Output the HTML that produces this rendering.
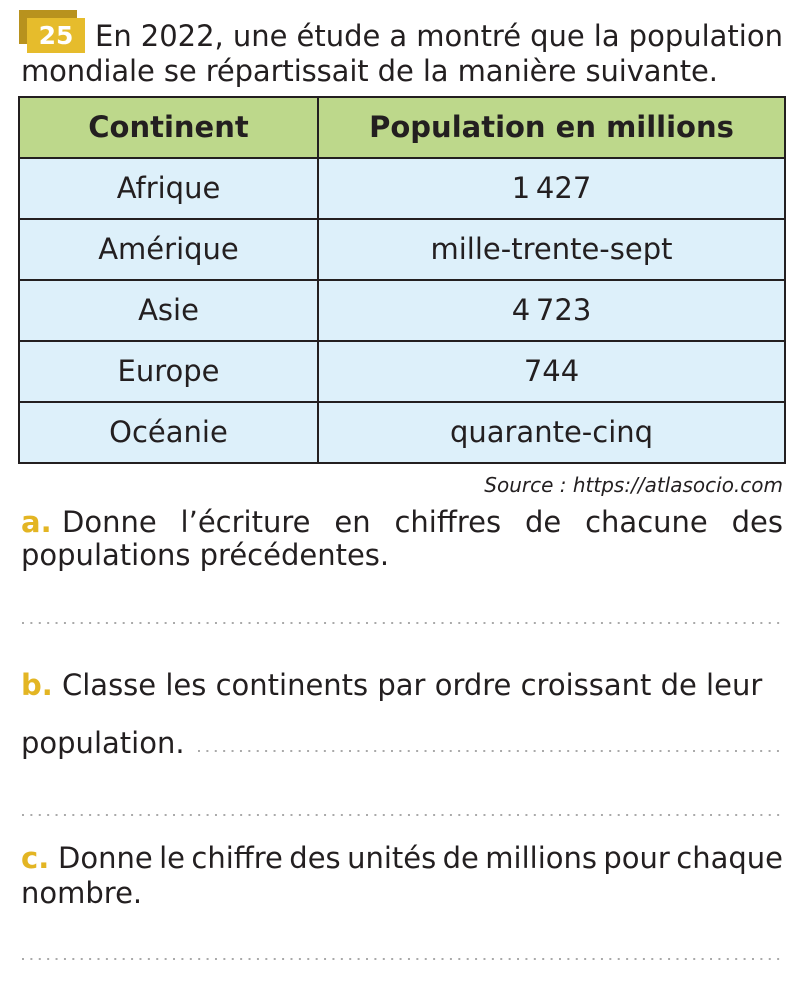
<!DOCTYPE html>
<html>
<head>
<meta charset="utf-8">
<style>
  html, body { margin:0; padding:0; }
  body { width:803px; height:1007px; background:#fff; position:relative; overflow:hidden;
         font-family:"DejaVu Sans","Liberation Sans",sans-serif; color:#231f20; }
  .abs { position:absolute; white-space:nowrap; }
  .t { font-size:29px; line-height:35px; }
  .y { color:#e3b523; font-weight:bold; }
  .just { text-align:justify; text-align-last:justify; white-space:normal; }
  .dots { position:absolute; height:2px;
          background-image:linear-gradient(to right,#a9a9a9 0,#a9a9a9 2.2px,transparent 2.2px);
          background-size:8.4px 2px; background-repeat:repeat-x; }
  .hl { position:absolute; left:18px; width:768px; height:2px; background:#231f20; }
  .vl { position:absolute; top:96px; height:368px; width:2px; background:#231f20; }
  .cell { position:absolute; font-size:29px; line-height:61px; text-align:center; white-space:nowrap; }
</style>
</head>
<body>
  <!-- badge -->
  <div style="position:absolute;left:19px;top:10px;width:58px;height:34px;background:#b8921e;"></div>
  <div style="position:absolute;left:27px;top:18px;width:58px;height:35px;background:#e6bc2c;color:#fff;font-weight:bold;font-size:25px;line-height:35px;text-align:center;">25</div>

  <div class="abs t just" style="left:95px;top:18.5px;width:688px;word-spacing:-0.5px;">En 2022, une étude a montré que la population</div>
  <div class="abs t" style="left:21px;top:53.5px;letter-spacing:-0.1px;">mondiale se répartissait de la manière suivante.</div>

  <!-- table backgrounds -->
  <div style="position:absolute;left:19px;top:97px;width:766px;height:61px;background:#bdd88b;"></div>
  <div style="position:absolute;left:19px;top:158px;width:766px;height:305px;background:#ddf0fa;"></div>
  <!-- grid lines -->
  <div class="hl" style="top:96px;"></div>
  <div class="hl" style="top:157px;"></div>
  <div class="hl" style="top:218px;"></div>
  <div class="hl" style="top:279px;"></div>
  <div class="hl" style="top:340px;"></div>
  <div class="hl" style="top:401px;"></div>
  <div class="hl" style="top:462px;"></div>
  <div class="vl" style="left:18px;"></div>
  <div class="vl" style="left:317px;"></div>
  <div class="vl" style="left:784px;"></div>

  <!-- cells -->
  <div class="cell" style="left:19px;width:299px;top:97px;font-weight:bold;">Continent</div>
  <div class="cell" style="left:318px;width:467px;top:97px;font-weight:bold;">Population en millions</div>

  <div class="cell" style="left:19px;width:299px;top:158px;">Afrique</div>
  <div class="cell" style="left:318px;width:467px;top:158px;">1&#x202F;427</div>

  <div class="cell" style="left:19px;width:299px;top:219px;">Amérique</div>
  <div class="cell" style="left:318px;width:467px;top:219px;">mille-trente-sept</div>

  <div class="cell" style="left:19px;width:299px;top:280px;">Asie</div>
  <div class="cell" style="left:318px;width:467px;top:280px;">4&#x202F;723</div>

  <div class="cell" style="left:19px;width:299px;top:341px;">Europe</div>
  <div class="cell" style="left:318px;width:467px;top:341px;">744</div>

  <div class="cell" style="left:19px;width:299px;top:402px;">Océanie</div>
  <div class="cell" style="left:318px;width:467px;top:402px;">quarante-cinq</div>

  <!-- source -->
  <div class="abs" style="right:20px;top:473px;font-size:20px;line-height:24px;font-style:italic;">Source : https://atlasocio.com</div>

  <!-- a -->
  <div class="abs t y" style="left:21px;top:504.5px;">a.</div>
  <div class="abs t just" style="left:62px;top:504.5px;width:721px;">Donne l’écriture en chiffres de chacune des</div>
  <div class="abs t" style="left:21px;top:537.5px;">populations précédentes.</div>
  <div class="dots" style="left:22px;top:622px;width:760px;"></div>

  <!-- b -->
  <div class="abs t y" style="left:21px;top:667.5px;">b.</div>
  <div class="abs t" style="left:62px;top:667.5px;">Classe les continents par ordre croissant de leur</div>
  <div class="abs t" style="left:21px;top:725.5px;">population.</div>
  <div class="dots" style="left:198px;top:750px;width:584px;"></div>
  <div class="dots" style="left:22px;top:814px;width:760px;"></div>

  <!-- c -->
  <div class="abs t y" style="left:21px;top:840.5px;">c.</div>
  <div class="abs t just" style="left:58px;top:840.5px;width:725px;word-spacing:-3px;">Donne le chiffre des unités de millions pour chaque</div>
  <div class="abs t" style="left:21px;top:875.5px;">nombre.</div>
  <div class="dots" style="left:22px;top:958px;width:760px;"></div>
</body>
</html>
